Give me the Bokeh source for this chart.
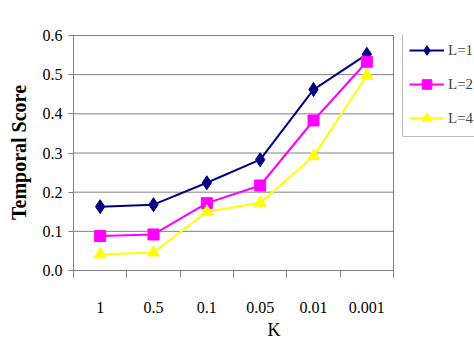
from bokeh.plotting import figure
from bokeh.models import Range1d, FixedTicker, Legend, LegendItem, ColumnDataSource
from bokeh.embed import file_html
from bokeh.resources import INLINE

k_labels = ["1", "0.5", "0.1", "0.05", "0.01", "0.001"]
l1 = [0.163, 0.168, 0.224, 0.283, 0.462, 0.552]
l2 = [0.088, 0.092, 0.172, 0.217, 0.383, 0.533]
l4 = [0.041, 0.046, 0.150, 0.173, 0.292, 0.498]
y_ticks = [0.0, 0.1, 0.2, 0.3, 0.4, 0.5, 0.6]

n = len(k_labels)
xs = [i + 0.5 for i in range(n)]

W, H = 474, 357
LEFT, TOP, BOTTOM = 73, 34, 87
PLOT_W = 320  # pixel width of the category area
frame_w = W - LEFT
x_end = n * frame_w / PLOT_W
y_top = 0.6 + 0.6 / 235 * 1.0

p = figure(width=W, height=H, output_backend="svg", toolbar_location=None,
           x_range=Range1d(0, x_end), y_range=Range1d(0, y_top),
           min_border_left=LEFT, min_border_top=TOP, min_border_right=0, min_border_bottom=BOTTOM)
p.background_fill_color = "white"
p.border_fill_color = "white"
p.outline_line_color = None

FONT = "Liberation Serif"
GRAY = "#808080"

# x axis: marks at category boundaries (minor ticks), labels at centers
p.xaxis.bounds = (0, n)
p.xaxis.ticker = FixedTicker(ticks=xs, minor_ticks=list(range(n + 1)))
p.xaxis.major_label_overrides = {x: lab for x, lab in zip(xs, k_labels)}
p.xaxis.major_tick_out = 0
p.xaxis.major_tick_in = 0
p.xaxis.minor_tick_out = 7
p.xaxis.minor_tick_in = 0
p.xaxis.minor_tick_line_color = GRAY
p.xaxis.axis_line_color = GRAY
p.xaxis.major_label_standoff = 24
p.xaxis.axis_label = "K"
p.xaxis.axis_label_text_font = FONT
p.xaxis.axis_label_text_font_style = "normal"
p.xaxis.axis_label_text_font_size = "18px"
p.xaxis.axis_label_standoff = 4
p.xgrid.visible = False
p.ygrid.visible = False

p.yaxis.ticker = FixedTicker(ticks=y_ticks)
p.yaxis.major_label_overrides = {t: f"{t:.1f}" for t in y_ticks}
p.yaxis.major_tick_out = 5
p.yaxis.major_tick_in = 0
p.yaxis.minor_tick_out = 0
p.yaxis.minor_tick_in = 0
p.yaxis.major_tick_line_color = GRAY
p.yaxis.axis_line_color = GRAY
p.yaxis.major_label_standoff = 6
p.yaxis.axis_label = "Temporal Score"
p.yaxis.axis_label_text_font = FONT
p.yaxis.axis_label_text_font_style = "bold"
p.yaxis.axis_label_text_font_size = "20px"
p.yaxis.axis_label_standoff = 10

for ax in (p.xaxis, p.yaxis):
    ax.major_label_text_font = FONT
    ax.major_label_text_font_size = "16px"
    ax.major_label_text_color = "black"
    ax.axis_label_text_color = "black"

# horizontal grid lines limited to the category area, plus right border
grid_y = [t for t in y_ticks if t > 0]
p.segment(x0=[0] * len(grid_y), y0=grid_y, x1=[n] * len(grid_y), y1=grid_y,
          line_color=GRAY, line_width=1)
p.segment(x0=[n], y0=[0], x1=[n], y1=[max(y_ticks)], line_color=GRAY, line_width=1)

src = ColumnDataSource(dict(x=xs, l1=l1, l2=l2, l4=l4))

r1 = p.line("x", "l1", source=src, line_color="#000080", line_width=2)
m1 = p.scatter("x", "l1", source=src, marker="diamond", size=14, fill_color="#000080", line_color="#000080")
r2 = p.line("x", "l2", source=src, line_color="#FF00FF", line_width=2)
m2 = p.scatter("x", "l2", source=src, marker="square", size=11, fill_color="#FF00FF", line_color="#FF00FF")
r4 = p.line("x", "l4", source=src, line_color="#FFFF00", line_width=2)
m4 = p.scatter("x", "l4", source=src, marker="triangle", size=12, fill_color="#FFFF00", line_color="#FFFF00")

legend = Legend(items=[LegendItem(label="L=1", renderers=[r1, m1]),
                       LegendItem(label="L=2", renderers=[r2, m2]),
                       LegendItem(label="L=4", renderers=[r4, m4])],
                location=(329, 133))
legend.border_line_color = GRAY
legend.border_line_width = 1
legend.background_fill_color = "white"
legend.background_fill_alpha = 1
legend.label_text_font = FONT
legend.label_text_font_size = "15px"
legend.glyph_width = 35
legend.glyph_height = 24
legend.label_height = 24
legend.label_standoff = 4
legend.spacing = 10
legend.padding = 6
legend.margin = 0
p.add_layout(legend, "center")

open("out.html", "w").write(file_html(p, INLINE))
